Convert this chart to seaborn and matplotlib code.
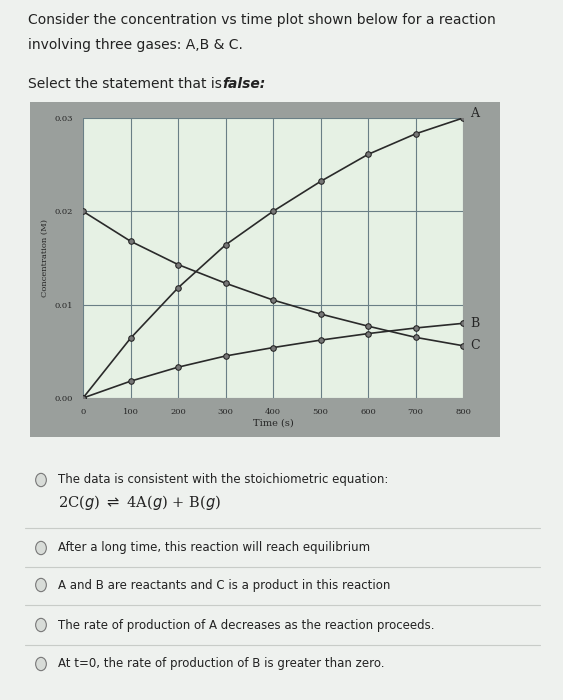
import matplotlib
matplotlib.use("Agg")
import matplotlib.pyplot as plt
import seaborn as sns
import pandas as pd
from matplotlib.patches import Circle

time = [0, 100, 200, 300, 400, 500, 600, 700, 800]
conc_A = [0, 0.0064, 0.0118, 0.0164, 0.0200, 0.0232, 0.0261, 0.0283, 0.0300]
conc_B = [0, 0.0018, 0.0033, 0.0045, 0.0054, 0.0062, 0.0069, 0.0075, 0.0080]
conc_C = [0.0200, 0.0168, 0.0143, 0.0123, 0.0105, 0.0090, 0.0077, 0.0065, 0.0056]
yticks = [0.00, 0.01, 0.02, 0.03]
options = [
    "The data is consistent with the stoichiometric equation:",
    "After a long time, this reaction will reach equilibrium",
    "A and B are reactants and C is a product in this reaction",
    "The rate of production of A decreases as the reaction proceeds.",
    "At t=0, the rate of production of B is greater than zero.",
]

sns.set_theme(style="white")
plt.rcParams['font.family'] = ['DejaVu Sans']
fig = plt.figure(figsize=(5.63, 7.0), dpi=100)
fig.patch.set_facecolor('#eef1ee')

# gray panel (behind the plot axes)
panel = fig.add_axes([30/563, 1-437/700, 470/563, 335/700], zorder=-1)
panel.set_facecolor('#9a9f9c')
panel.set_xticks([]); panel.set_yticks([])
for sp in panel.spines.values():
    sp.set_visible(False)

ax = fig.add_axes([83/563, 1-398/700, 380/563, 280/700], zorder=1)
ax.set_facecolor('#e6f1e4')

df = pd.DataFrame({"time": time * 3, "conc": conc_A + conc_B + conc_C,
                   "gas": ["A"] * 9 + ["B"] * 9 + ["C"] * 9})
sns.lineplot(data=df, x="time", y="conc", units="gas", estimator=None, color='#2a2a2a',
             marker='o', markersize=4, markerfacecolor='#777', markeredgecolor='#222', lw=1.2, ax=ax)
for lab, s in zip(["A", "B", "C"], [conc_A, conc_B, conc_C]):
    ax.text(time[-1] + 15, s[-1] + (0.0005 if lab == "A" else 0), lab, fontsize=9, va='center', clip_on=False,
            family='DejaVu Serif')
ax.set_xlim(0, 800); ax.set_ylim(0, 0.03)
ax.set_xticks(time); ax.set_yticks(yticks)
ax.set_yticklabels([f"{v:.2f}" for v in yticks], fontsize=6, family='DejaVu Serif')
ax.set_xticklabels([str(t) for t in time], fontsize=6, family='DejaVu Serif')
ax.tick_params(pad=1)
ax.grid(True, color='#6a7f86', lw=0.8)
ax.set_xlabel("Time (s)", fontsize=7, family='DejaVu Serif', labelpad=2)
ax.set_ylabel("Concentration (M)", fontsize=6, family='DejaVu Serif', labelpad=4)
for sp in ax.spines.values():
    sp.set_visible(False)

fig.text(28/563, 1-20/700, "Consider the concentration vs time plot shown below for a reaction",
         fontsize=10, va='center', color='#222')
fig.text(28/563, 1-45/700, "involving three gases: A,B & C.", fontsize=10, va='center', color='#222')
fig.text(28/563, 1-84/700, "Select the statement that is", fontsize=10, va='center', color='#222')
fig.text(222/563, 1-84/700, "false:", fontsize=10, va='center', style='italic', weight='bold', color='#222')

ys = [480, 548, 585, 625, 664]
for y, t in zip(ys, options):
    fig.patches.append(Circle((41/563, 1-y/700), 0.0095, transform=fig.transFigure,
                              facecolor='#d8dcd8', edgecolor='#777', lw=0.8))
    fig.text(58/563, 1-y/700, t, fontsize=8.5, va='center', color='#222')
fig.text(58/563, 1-503/700, r"2C($g$) $\rightleftharpoons$ 4A($g$) + B($g$)", fontsize=10.5, va='center',
         family='DejaVu Serif', color='#222')
for y in [528, 567, 605, 645]:
    fig.lines.append(plt.Line2D([25/563, 540/563], [1-y/700] * 2, transform=fig.transFigure, color='#c8ccc8', lw=0.8))

fig.savefig("out.png", dpi=100)
